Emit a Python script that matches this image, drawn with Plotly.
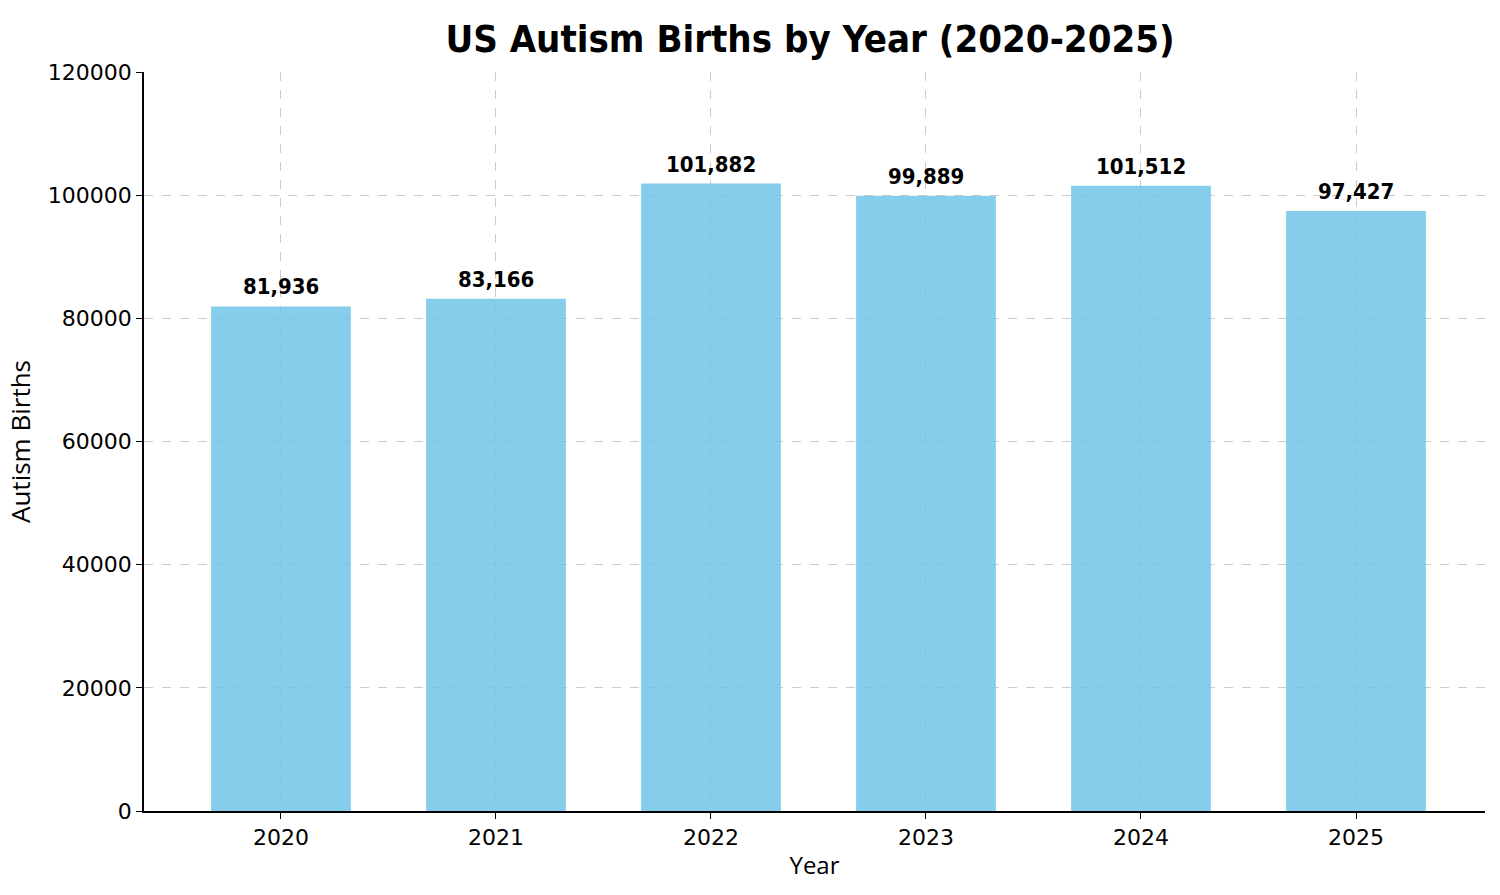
import plotly.graph_objects as go

years = ["2020", "2021", "2022", "2023", "2024", "2025"]
births = [81936, 83166, 101882, 99889, 101512, 97427]
y_ticks = [0, 20000, 40000, 60000, 80000, 100000, 120000]

fig = go.Figure()
fig.add_trace(go.Bar(
    x=years, y=births, width=0.65,
    marker=dict(color="rgba(114,197,232,0.86)", line=dict(width=0)),
    showlegend=False,
))

for i, (yr, v) in enumerate(zip(years, births)):
    fig.add_annotation(
        x=i, y=v, xref="x", yref="y", text=f"<b>{v:,}</b>", showarrow=False,
        yanchor="bottom", yshift=5,
        font=dict(family="DejaVu Sans Condensed, DejaVu Sans", size=22, color="black"),
    )

fig.update_layout(
    width=1500, height=895,
    margin=dict(l=144, r=15, t=72, b=84),
    paper_bgcolor="white", plot_bgcolor="white",
    title=dict(text="<b>US Autism Births by Year (2020-2025)</b>", x=0.54, xanchor="center",
               y=0.957, yanchor="middle",
               font=dict(family="DejaVu Sans Condensed, DejaVu Sans", size=38, color="black")),
    font=dict(family="DejaVu Sans", size=18, color="black"),
    xaxis=dict(
        type="category",
        title=dict(text="Year", font=dict(family="Open Sans", size=24), standoff=8),
        range=[-0.637, 5.6], showline=True, linecolor="black", linewidth=1.5,
        ticks="outside", ticklen=6, tickcolor="black", tickfont=dict(size=22),
        showgrid=True, gridcolor="#cccccc", griddash="dash", gridwidth=1,
        layer="above traces", mirror=False,
    ),
    yaxis=dict(
        title=dict(text="Autism Births", font=dict(family="Open Sans", size=26), standoff=10),
        range=[0, 120000], tickvals=y_ticks, tickformat="d",
        showline=True, linecolor="black", linewidth=1.5,
        ticks="outside", ticklen=6, tickcolor="black", tickfont=dict(size=22),
        showgrid=True, gridcolor="#cccccc", griddash="dash", gridwidth=1,
        zeroline=False, layer="above traces",
    ),
    bargap=0.35,
)

fig.write_html("out.html")
